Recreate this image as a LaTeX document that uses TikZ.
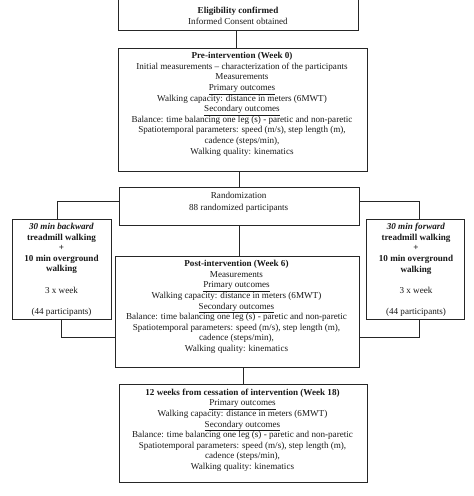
\documentclass[tikz,border=0pt]{standalone}
\usepackage{fontspec}
\setmainfont{Liberation Serif}
\begin{document}
\begin{tikzpicture}[x=1pt,y=-1pt,
  box/.style={draw=black!85, line width=0.8pt, inner sep=0pt, fill=none},
  txt/.style={align=center, font=\fontsize{9.1}{10.6}\selectfont, text=black!90, inner sep=0pt},
  link/.style={draw=black!85, line width=0.8pt}]
\useasboundingbox (0,0) rectangle (474,496);
% boxes
\node[box, minimum width=240pt, minimum height=33pt] (top) at (238,13.5) {};
\node[box, minimum width=249pt, minimum height=123pt] (pre) at (242.5,109.5) {};
\node[box, minimum width=240pt, minimum height=38pt] (rand) at (239,206) {};
\node[box, minimum width=99pt, minimum height=100pt] (left) at (61.5,269) {};
\node[box, minimum width=98pt, minimum height=100pt] (right) at (415,269) {};
\node[box, minimum width=244pt, minimum height=111pt] (post) at (237,311.5) {};
\node[box, minimum width=248pt, minimum height=98pt] (final) at (243,433) {};
% texts
\node[txt] (toptext) at (238,16) {\textbf{Eligibility confirmed}\\Informed Consent obtained};
\node[txt] (pretext) at (242,104.2) {\textbf{Pre-intervention (Week 0)}\\
Initial measurements – characterization of the participants\\
Measurements\\
\underline{Primary outcomes}\\
Walking capacity: distance in meters (6MWT)\\
\underline{Secondary outcomes}\\
Balance: time balancing one leg (s) - paretic and non-paretic\\
Spatiotemporal parameters: speed (m/s), step length (m),\\
cadence (steps/min),\\
Walking quality: kinematics};
\node[txt] (randtext) at (238.7,202) {Randomization\\[1.1pt]88 randomized participants};
\node[txt] (lefttext) at (61.5,269.8) {\textbf{\textit{30 min backward}}\\
\textbf{treadmill walking}\\
\textbf{+}\\
\textbf{10 min overground}\\
\textbf{walking}\\[10.6pt]
3 x week\\[10.6pt]
(44 participants)};
\node[txt] (righttext) at (416,269.8) {\textbf{\textit{30 min forward}}\\
\textbf{treadmill walking}\\
\textbf{+}\\
\textbf{10 min overground}\\
\textbf{walking}\\[10.6pt]
3 x week\\[10.6pt]
(44 participants)};
\node[txt] (posttext) at (236.5,307) {\textbf{Post-intervention (Week 6)}\\
Measurements\\
\underline{Primary outcomes}\\
Walking capacity: distance in meters (6MWT)\\
\underline{Secondary outcomes}\\
Balance: time balancing one leg (s) - paretic and non-paretic\\
Spatiotemporal parameters: speed (m/s), step length (m),\\
cadence (steps/min),\\
Walking quality: kinematics};
\node[txt] (finaltext) at (242.5,430.2) {\textbf{12 weeks from cessation of intervention (Week 18)}\\
\underline{Primary outcomes}\\
Walking capacity: distance in meters (6MWT)\\
\underline{Secondary outcomes}\\
Balance: time balancing one leg (s) - paretic and non-paretic\\
Spatiotemporal parameters: speed (m/s), step length (m),\\
cadence (steps/min),\\
Walking quality: kinematics};
% connectors
\coordinate (c1) at (236,0);
\draw[link] (c1 |- top.south) -- (c1 |- pre.north);
\draw[link] (rand.north |- pre.south) -- (rand.north);
\coordinate (c2) at (57,201);
\coordinate (c3) at (419,201);
\draw[link] (rand.west |- c2) -| (c2 |- left.north);
\draw[link] (rand.east |- c3) -| (c3 |- right.north);
\draw[link] (rand.south) -- (rand.south |- post.north);
\coordinate (c4) at (0,337);
\coordinate (c5) at (419,337);
\draw[link] (left.south) |- (post.west |- c4);
\draw[link] (c5 |- right.south) |- (post.east |- c4);
\draw[link] (final.north |- post.south) -- (final.north);
\end{tikzpicture}
\end{document}
